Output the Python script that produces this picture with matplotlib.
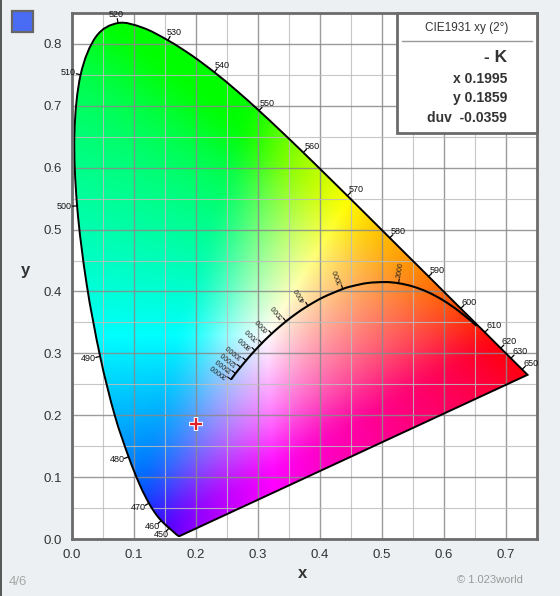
import numpy as np
import matplotlib
matplotlib.use("Agg")
from matplotlib import pyplot as plt
from matplotlib.patches import PathPatch, Rectangle
from matplotlib.path import Path
from matplotlib.lines import Line2D

plt.rcParams['font.family'] = ['Liberation Sans', 'DejaVu Sans']

# CIE 1931 2 deg spectral locus (nm, x, y)
wl = [380, 385, 390, 395, 400, 405, 410, 415, 420, 425, 430, 435, 440, 445,
      450, 455, 460, 465, 470, 475, 480, 485, 490, 495, 500, 505, 510, 515,
      520, 525, 530, 535, 540, 545, 550, 555, 560, 565, 570, 575, 580, 585,
      590, 595, 600, 605, 610, 615, 620, 625, 630, 635, 640, 645, 650, 655,
      660, 665, 670, 680, 690, 700]
loc_x = [0.1741, 0.1740, 0.1738, 0.1736, 0.1733, 0.1730, 0.1726, 0.1721, 0.1714,
         0.1703, 0.1689, 0.1669, 0.1644, 0.1611, 0.1566, 0.1510, 0.1440, 0.1355,
         0.1241, 0.1096, 0.0913, 0.0687, 0.0454, 0.0235, 0.0082, 0.0039, 0.0139,
         0.0389, 0.0743, 0.1142, 0.1547, 0.1929, 0.2296, 0.2658, 0.3016, 0.3373,
         0.3731, 0.4087, 0.4441, 0.4788, 0.5125, 0.5448, 0.5752, 0.6029, 0.6270,
         0.6482, 0.6658, 0.6801, 0.6915, 0.7006, 0.7079, 0.7140, 0.7190, 0.7230,
         0.7260, 0.7283, 0.7300, 0.7311, 0.7320, 0.7334, 0.7344, 0.7347]
loc_y = [0.0050, 0.0050, 0.0049, 0.0049, 0.0048, 0.0048, 0.0048, 0.0048, 0.0051,
         0.0058, 0.0069, 0.0086, 0.0109, 0.0138, 0.0177, 0.0227, 0.0297, 0.0399,
         0.0578, 0.0868, 0.1327, 0.2007, 0.2950, 0.4127, 0.5384, 0.6548, 0.7502,
         0.8120, 0.8338, 0.8262, 0.8059, 0.7816, 0.7543, 0.7243, 0.6923, 0.6589,
         0.6245, 0.5896, 0.5547, 0.5202, 0.4866, 0.4544, 0.4242, 0.3965, 0.3725,
         0.3514, 0.3340, 0.3197, 0.3083, 0.2993, 0.2920, 0.2859, 0.2809, 0.2770,
         0.2740, 0.2717, 0.2700, 0.2689, 0.2680, 0.2666, 0.2656, 0.2653]
wl_labels = [450, 460, 470, 480, 490, 500, 510, 520, 530, 540, 550, 560, 570,
             580, 590, 600, 610, 620, 630, 650]

# Planckian locus (K, x, y)
cct = [1000, 1200, 1400, 1600, 1800, 2000, 2200, 2500, 2800, 3000, 3500, 4000,
       4500, 5000, 5500, 6000, 6500, 7000, 8000, 9000, 10000, 12000, 15000, 20000]
pl_x = [0.6528, 0.6251, 0.5985, 0.5732, 0.5493, 0.5267, 0.5056, 0.4770, 0.4520,
        0.4369, 0.4053, 0.3805, 0.3608, 0.3451, 0.3325, 0.3221, 0.3135, 0.3064,
        0.2952, 0.2869, 0.2807, 0.2718, 0.2637, 0.2565]
pl_y = [0.3444, 0.3674, 0.3858, 0.3993, 0.4082, 0.4133, 0.4152, 0.4137, 0.4086,
        0.4041, 0.3907, 0.3768, 0.3636, 0.3516, 0.3411, 0.3318, 0.3237, 0.3166,
        0.3048, 0.2956, 0.2884, 0.2776, 0.2675, 0.2577]
cct_labels = [2000, 3000, 4000, 5000, 6000, 7000, 8000, 10000, 12000, 15000, 20000]

meas_x, meas_y = 0.1995, 0.1859
info_title = 'CIE1931 xy (2°)'
info_lines = ['- K', 'x 0.1995', 'y 0.1859', 'duv  -0.0359']


def smooth(P, closed=False):
    # catmull-rom through the points, drawn as cubic bezier segments
    verts, codes = [P[0]], [Path.MOVETO]
    n = len(P)
    for i in range(n - 1):
        p0 = P[max(i - 1, 0)]
        p1, p2 = P[i], P[i + 1]
        p3 = P[min(i + 2, n - 1)]
        verts += [p1 + (p2 - p0) / 6, p2 - (p3 - p1) / 6, p2]
        codes += [Path.CURVE4] * 3
    if closed:
        verts += [P[0], P[0]]
        codes += [Path.LINETO, Path.CLOSEPOLY]
    return Path(verts, codes)


W, H = 560, 596
fig = plt.figure(figsize=(W / 100, H / 100), dpi=100, facecolor='#edf0f2')
ax = fig.add_axes([72 / W, 57 / H, 465 / W, 526 / H])
ax.set_xlim(0, 0.75)
ax.set_ylim(0, 0.85)

# colour fill of the horseshoe
gx, gy = np.meshgrid(np.linspace(0, 0.75, 600), np.linspace(0, 0.85, 680))
xyz = np.stack([gx, gy, 1 - gx - gy], axis=-1)
M = np.array([[3.2406, -1.5372, -0.4986],
              [-0.9689, 1.8758, 0.0415],
              [0.0557, -0.2040, 1.0570]])
rgb = np.clip(xyz @ M.T, 0, None)
rgb /= rgb.max(axis=-1, keepdims=True) + 1e-9
k = np.exp(-0.5 * (np.arange(-60, 61) / 20.0) ** 2)
k /= k.sum()
for ax_i in (0, 1):
    padw = [(0, 0)] * 3
    padw[ax_i] = (60, 60)
    rp = np.pad(rgb, padw, mode='edge')
    rgb = np.apply_along_axis(lambda v: np.convolve(v, k, mode='valid'), ax_i, rp)
rgb /= rgb.max(axis=-1, keepdims=True) + 1e-9
rgb = np.where(rgb <= 0.0031308, 12.92 * rgb, 1.055 * rgb ** (1 / 2.4) - 0.055)
im = ax.imshow(np.clip(rgb, 0, 1), origin='lower', extent=(0, 0.75, 0, 0.85),
               aspect='auto', interpolation='bilinear', zorder=0)
pts = np.column_stack([loc_x, loc_y])
locus = PathPatch(smooth(pts, closed=True), fc='none', ec='black', lw=1.4, zorder=3)
ax.add_patch(locus)
im.set_clip_path(locus)

# grid
ax.set_xticks(np.arange(0, 0.75, 0.1))
ax.set_yticks(np.arange(0, 0.85, 0.1))
ax.set_xticks(np.arange(0.05, 0.75, 0.1), minor=True)
ax.set_yticks(np.arange(0.05, 0.85, 0.1), minor=True)
ax.xaxis.set_major_formatter('{x:.1f}')
ax.yaxis.set_major_formatter('{x:.1f}')
ax.set_axisbelow(False)
ax.grid(which='major', color='#8a8a8a', lw=1.0, alpha=0.85)
ax.grid(which='minor', color='#bdbdbd', lw=0.8, alpha=0.85)
ax.tick_params(which='both', length=0, labelsize=9.5, labelcolor='#333333')
ax.tick_params(axis='x', pad=7)
ax.tick_params(axis='y', pad=7)
for s in ax.spines.values():
    s.set_color('#6b6b6b')
    s.set_linewidth(2)
    s.set_zorder(3.5)

# wavelength ticks and labels
for w in wl_labels:
    i = wl.index(w)
    d = pts[i + 1] - pts[i - 1]
    n = np.array([-d[1], d[0]])
    n /= np.hypot(*n)
    p = pts[i]
    ax.annotate('', xy=p, xytext=(n[0] * 3.2, n[1] * 3.2), textcoords='offset points',
                arrowprops=dict(arrowstyle='-', color='black', lw=0.9,
                                shrinkA=0, shrinkB=0), zorder=4)
    ax.annotate(str(w), xy=p, xytext=(n[0] * 9, n[1] * 6.5), textcoords='offset points',
                ha='center', va='center', fontsize=6.5, color='#111111',
                annotation_clip=False, zorder=4)

# Planckian locus
pp = np.column_stack([pl_x, pl_y])
ax.add_patch(PathPatch(smooth(pp), fc='none', ec='black', lw=1.5, zorder=3))
for t in cct_labels:
    i = cct.index(t)
    a = pp[max(i - 1, 0)]
    b = pp[min(i + 1, len(cct) - 1)]
    d = b - a
    n = np.array([-d[1], d[0]])
    n /= np.hypot(*n)
    if n[1] < 0:
        n = -n
    ang = np.degrees(np.arctan2(n[1], n[0]))
    ax.annotate('', xy=pp[i], xytext=(n[0] * 3, n[1] * 3), textcoords='offset points',
                arrowprops=dict(arrowstyle='-', color='black', lw=0.8,
                                shrinkA=0, shrinkB=0), zorder=4)
    ax.annotate(str(t), xy=pp[i], xytext=(n[0] * 4, n[1] * 4), textcoords='offset points',
                rotation=ang, rotation_mode='anchor', ha='left', va='center',
                fontsize=5, color='#222222', zorder=4)

# measured point
ax.plot(meas_x, meas_y, marker='+', ms=10, mew=3.2, color='white', zorder=5)
ax.plot(meas_x, meas_y, marker='+', ms=9, mew=1.6, color='#e0202a', zorder=5)


# info box
def axp(X, Y):
    return ((X - 72) / 465, (539 - Y) / 526)


x0, y0 = axp(397, 133)
ax.add_patch(Rectangle((x0, y0), 1 - x0, 1 - y0, transform=ax.transAxes,
                       fc='white', ec='#6b6b6b', lw=2, zorder=7, clip_on=False))
ax.text(*axp(467, 28), info_title, transform=ax.transAxes, ha='center', va='center',
        fontsize=8.5, color='#333333', zorder=8)
ax.add_line(Line2D([axp(402, 0)[0], axp(532, 0)[0]], [axp(0, 41)[1]] * 2,
                   transform=ax.transAxes, color='#999999', lw=1, zorder=8))
ax.text(*axp(507, 58), info_lines[0], transform=ax.transAxes, ha='right', va='center',
        fontsize=12.5, fontweight='bold', color='#333333', zorder=8)
for txt, yy in zip(info_lines[1:], [79, 98, 118]):
    ax.text(*axp(507, yy), txt, transform=ax.transAxes, ha='right', va='center',
            fontsize=10, fontweight='bold', color='#333333', zorder=8)

# figure decorations
fig.text(303 / W, 1 - 574 / H, 'x', ha='center', va='center', fontsize=12,
         fontweight='bold', color='#333333')
fig.text(25 / W, 1 - 271 / H, 'y', ha='center', va='center', fontsize=12,
         fontweight='bold', color='#333333')
fig.text(18 / W, 1 - 582 / H, '4/6', ha='center', va='center', fontsize=9.5,
         color='#a8a8a8')
fig.text(490 / W, 1 - 580 / H, '© 1.023world', ha='center', va='center',
         fontsize=8, color='#999999')
fig.add_artist(Rectangle((12 / W, 1 - 32 / H), 21 / W, 21 / H, transform=fig.transFigure,
                         fc='#4a6cf5', ec='#666666', lw=1.6))
fig.add_artist(Line2D([0.8 / W, 0.8 / W], [0, 1], transform=fig.transFigure,
                      color='#3a3a3a', lw=1.2))

fig.savefig('out.png', dpi=100, facecolor=fig.get_facecolor())
